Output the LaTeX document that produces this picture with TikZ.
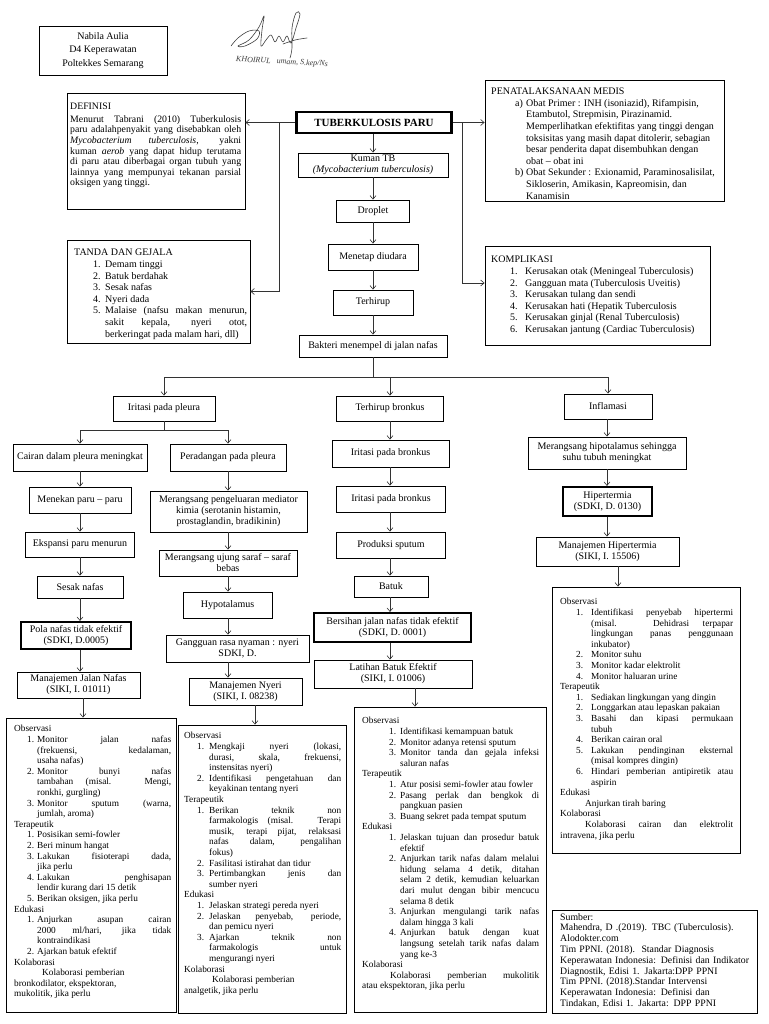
\documentclass[tikz,border=0pt]{standalone}
\usepackage{fontspec}
\setmainfont{Liberation Serif}
\usetikzlibrary{arrows.meta,fit}

\newlength{\nind}
\newlength{\nwid}
\newcommand{\itm}[2]{\par\noindent\hangindent=\dimexpr\nind+\nwid\relax\hangafter=1\hbox to\nind{}\hbox to\nwid{#1\hfil}#2\par}
\newcommand{\hd}[1]{\par\noindent #1\par}
\newcommand{\kol}[2]{\par\noindent\hspace*{#1}#2\par}
\newcommand{\fflow}{\fontsize{10}{11}\selectfont}
\newcommand{\ftop}{\fontsize{10}{11.6}\selectfont\tolerance=10000\hbadness=10000\parindent=0pt}
\newcommand{\fdef}{\fontsize{9.8}{10.6}\selectfont\tolerance=10000\hbadness=10000\parindent=0pt}
\newcommand{\fbot}{\fontsize{9.3}{10.6}\selectfont\tolerance=10000\hbadness=10000\parindent=0pt}
\newcommand{\fsrc}{\fontsize{9.8}{10.8}\selectfont\tolerance=10000\hbadness=10000\parindent=0pt}

\tikzset{
  fbox/.style={draw, line width=0.9pt, align=center, inner sep=1pt, font=\fflow},
  tkbox/.style={fbox, line width=2.2pt},
  arr/.style={draw=black!80, -{Straight Barb[length=3.5pt,width=6pt]}, line width=0.6pt},
  ln/.style={draw=black!80, line width=0.6pt},
  frame/.style={draw, line width=0.9pt, inner sep=0pt},
  txt/.style={anchor=north west, inner sep=0pt, align=justify},
  sig/.style={line width=0.6pt, black!75, line cap=round, line join=round},
}

\begin{document}
\begin{tikzpicture}[x=1pt, y=-1pt]
\fill[white] (0,0) rectangle (768,1024);
\useasboundingbox (0,0) rectangle (768,1024);

% header
\node[draw, line width=0.9pt, minimum width=128pt, minimum height=49pt, align=center, font=\fontsize{10}{13.3}\selectfont] (hdr) at (103,50.5) {Nabila Aulia\\D4 Keperawatan\\Poltekkes Semarang};

% signature
\draw[sig] plot[smooth, tension=0.6] coordinates {(231,46) (238,38) (249,31) (259,31) (257,39) (245,46) (238,46) (249,40) (259,27) (264,16) (262,30) (261,46) (266,40) (271,35) (275,42) (279,36) (283,42) (287,36) (291,43) (296,28) (300,14) (296,13) (292,28) (292,48) (290,58)};
\draw[sig] plot[smooth, tension=0.6] coordinates {(283,44) (295,40) (307,38)};
\node[rotate=-3, font=\fontsize{8}{8}\selectfont\itshape, text=black!75] (sigtext) at (282,62) {KHOIRUL \hspace{4pt}umam, S.kep/Ns};

% central flow
\node[tkbox, minimum width=155pt, minimum height=21pt, font=\fontsize{11}{12}\selectfont\bfseries] (title) at (374,122.5) {TUBERKULOSIS PARU};
\node[fbox, minimum width=150pt, minimum height=24pt] (kuman) at (373,165) {Kuman TB\\\textit{(Mycobacterium tuberculosis)}};
\node[fbox, minimum width=73pt, minimum height=22pt] (drop) at (373,211) {Droplet};
\node[fbox, minimum width=90pt, minimum height=26pt] (menetap) at (373,257) {Menetap diudara};
\node[fbox, minimum width=80pt, minimum height=25pt] (terhirup) at (373,302.5) {Terhirup};
\node[fbox, minimum width=148pt, minimum height=22pt] (bak) at (373,346) {Bakteri menempel di jalan nafas};

% definisi
\node[frame, fit={(67,93) (245,209)}] (defi) {};
\node[txt, text width=171pt, font=\fdef] (deft) at (70,103) {DEFINISI\par\vspace{2pt}Menurut Tabrani (2010) Tuberkulosis\linebreak paru adalahpenyakit yang disebabkan oleh\linebreak \textit{Mycobacterium tuberculosis}, yakni\linebreak kuman \textit{aerob} yang dapat hidup terutama\linebreak di paru atau diberbagai organ tubuh yang\linebreak lainnya yang mempunyai tekanan parsial\linebreak oksigen yang tinggi.\par};

% tanda dan gejala
\node[frame, fit={(67,240) (250,343)}] (tanda) {};
\node[txt, text width=173pt, font=\ftop] (tandat) at (74,244) {\setlength{\nind}{19pt}\setlength{\nwid}{12pt}%
\hd{TANDA DAN GEJALA}
\itm{1.}{Demam tinggi}
\itm{2.}{Batuk berdahak}
\itm{3.}{Sesak nafas}
\itm{4.}{Nyeri dada}
\itm{5.}{Malaise (nafsu makan menurun,\linebreak sakit kepala, nyeri otot,\linebreak berkeringat pada malam hari, dll)}};

% penatalaksanaan
\node[frame, fit={(485,80) (724,201)}] (pena) {};
\node[txt, text width=228pt, font=\ftop] (penat) at (491,83) {\setlength{\nind}{24pt}\setlength{\nwid}{11pt}%
\hd{PENATALAKSANAAN MEDIS}
\itm{a)}{Obat Primer : INH (isoniazid), Rifampisin,\newline Etambutol, Strepmisin, Pirazinamid.\newline Memperlihatkan efektifitas yang tinggi dengan\newline toksisitas yang masih dapat ditolerir, sebagian\newline besar penderita dapat disembuhkan dengan\newline obat – obat ini}
\itm{b)}{Obat Sekunder : Exionamid, Paraminosalisilat,\newline Sikloserin, Amikasin, Kapreomisin, dan\newline Kanamisin}};

% komplikasi
\node[frame, fit={(485,246) (710,345)}] (kompl) {};
\node[txt, text width=215pt, font=\ftop] (komplt) at (491,251) {\setlength{\nind}{19pt}\setlength{\nwid}{15pt}%
\hd{KOMPLIKASI}
\itm{1.}{Kerusakan otak (Meningeal Tuberculosis)}
\itm{2.}{Gangguan mata (Tuberculosis Uveitis)}
\itm{3.}{Kerusakan tulang dan sendi}
\itm{4.}{Kerusakan hati (Hepatik Tuberculosis}
\itm{5.}{Kerusakan ginjal (Renal Tuberculosis)}
\itm{6.}{Kerusakan jantung (Cardiac Tuberculosis)}};

% level 1
\node[fbox, minimum width=102pt, minimum height=25pt] (irp) at (164,408.5) {Iritasi pada pleura};
\node[fbox, minimum width=107pt, minimum height=25pt] (thb) at (390,408.5) {Terhirup bronkus};
\node[fbox, minimum width=88pt, minimum height=25pt] (inf) at (608,406.5) {Inflamasi};

% left column A
\node[fbox, minimum width=134pt, minimum height=27pt] (cai) at (80,457.5) {Cairan dalam pleura meningkat};
\node[fbox, minimum width=102pt, minimum height=26pt] (mnk) at (80,500) {Menekan paru – paru};
\node[fbox, minimum width=109pt, minimum height=25pt] (eks) at (80,544.5) {Ekspansi paru menurun};
\node[fbox, minimum width=86pt, minimum height=22pt] (ssk) at (80,587) {Sesak nafas};
\node[tkbox, minimum width=110pt, minimum height=27pt] (pola) at (76,635.5) {Pola nafas tidak efektif\\(SDKI, D.0005)};
\node[fbox, minimum width=123pt, minimum height=26pt] (mjn) at (78.5,685) {Manajemen Jalan Nafas\\(SIKI, I. 01011)};

% left column B
\node[fbox, minimum width=116pt, minimum height=27pt] (per) at (228,457.5) {Peradangan pada pleura};
\node[fbox, minimum width=157pt, minimum height=41pt] (med) at (228.5,511.5) {Merangsang pengeluaran mediator\\kimia (serotanin histamin,\\prostaglandin, bradikinin)};
\node[fbox, minimum width=138pt, minimum height=26pt] (ujs) at (228,563) {Merangsang ujung saraf – saraf\\bebas};
\node[fbox, minimum width=89pt, minimum height=26pt] (hyp) at (227.5,605) {Hypotalamus};
\node[fbox, minimum width=143pt, minimum height=27pt] (gan) at (237.5,648.5) {Gangguan rasa nyaman : nyeri\\SDKI, D.};
\node[fbox, minimum width=113pt, minimum height=27pt] (mny) at (245.5,691.5) {Manajemen Nyeri\\(SIKI, I. 08238)};

% middle column
\node[fbox, minimum width=117pt, minimum height=27pt] (ib1) at (390.5,453.5) {Iritasi pada bronkus};
\node[fbox, minimum width=109pt, minimum height=26pt] (ib2) at (391,499) {Iritasi pada bronkus};
\node[fbox, minimum width=109pt, minimum height=26pt] (spu) at (391,545) {Produksi sputum};
\node[fbox, minimum width=74pt, minimum height=21pt] (btk) at (391,586.5) {Batuk};
\node[tkbox, minimum width=157pt, minimum height=29pt] (ber) at (392.5,627.5) {Bersihan jalan nafas tidak efektif\\(SDKI, D. 0001)};
\node[fbox, minimum width=158pt, minimum height=28pt] (lat) at (393,674) {Latihan Batuk Efektif\\(SIKI, I. 01006)};

% right column
\node[fbox, minimum width=158pt, minimum height=32pt] (mhp) at (607,453) {Merangsang hipotalamus sehingga\\suhu tubuh meningkat};
\node[tkbox, minimum width=89pt, minimum height=29pt] (hip) at (607.5,501.5) {Hipertermia\\(SDKI, D. 0130)};
\node[fbox, minimum width=143pt, minimum height=29pt] (mhip) at (607.5,551.5) {Manajemen Hipertermia\\(SIKI, I. 15506)};

% bottom boxes
\node[frame, fit={(6,718) (176,1012)}] (b1) {};
\node[txt, text width=157pt, font=\fbot] (b1t) at (14,721) {\setlength{\nind}{13pt}\setlength{\nwid}{10pt}%
\hd{Observasi}
\itm{1.}{Monitor jalan nafas\linebreak (frekuensi, kedalaman,\linebreak usaha nafas)}
\itm{2.}{Monitor bunyi nafas\linebreak tambahan (misal. Mengi,\linebreak ronkhi, gurgling)}
\itm{3.}{Monitor sputum (warna,\linebreak jumlah, aroma)}
\hd{Terapeutik}
\itm{1.}{Posisikan semi-fowler}
\itm{2.}{Beri minum hangat}
\itm{3.}{Lakukan fisioterapi dada,\linebreak jika perlu}
\itm{4.}{Lakukan penghisapan\linebreak lendir kurang dari 15 detik}
\itm{5.}{Berikan oksigen, jika perlu}
\hd{Edukasi}
\itm{1.}{Anjurkan asupan cairan\linebreak 2000 ml/hari, jika tidak\linebreak kontraindikasi}
\itm{2.}{Ajarkan batuk efektif}
\hd{Kolaborasi}
\kol{28pt}{Kolaborasi pemberian\newline bronkodilator, ekspektoran,\newline mukolitik, jika perlu}};

\node[frame, fit={(178,725) (346,1013)}] (b2) {};
\node[txt, text width=157pt, font=\fbot] (b2t) at (184,728) {\setlength{\nind}{13pt}\setlength{\nwid}{12pt}%
\hd{Observasi}
\itm{1.}{Mengkaji nyeri (lokasi,\linebreak durasi, skala, frekuensi,\linebreak instensitas nyeri)}
\itm{2.}{Identifikasi pengetahuan dan\linebreak keyakinan tentang nyeri}
\hd{Terapeutik}
\itm{1.}{Berikan teknik non\linebreak farmakologis (misal. Terapi\linebreak musik, terapi pijat, relaksasi\linebreak nafas dalam, pengalihan\linebreak fokus)}
\itm{2.}{Fasilitasi istirahat dan tidur}
\itm{3.}{Pertimbangkan jenis dan\linebreak sumber nyeri}
\hd{Edukasi}
\itm{1.}{Jelaskan strategi pereda nyeri}
\itm{2.}{Jelaskan penyebab, periode,\linebreak dan pemicu nyeri}
\itm{3.}{Ajarkan teknik non\linebreak farmakologis untuk\linebreak mengurangi nyeri}
\hd{Kolaborasi}
\kol{28pt}{Kolaborasi pemberian\newline analgetik, jika perlu}};

\node[frame, fit={(354,707) (546,1012)}] (b3) {};
\node[txt, text width=177pt, font=\fbot] (b3t) at (362,713) {\setlength{\nind}{27pt}\setlength{\nwid}{11pt}%
\hd{Observasi}
\itm{1.}{Identifikasi kemampuan batuk}
\itm{2.}{Monitor adanya retensi sputum}
\itm{3.}{Monitor tanda dan gejala infeksi\linebreak saluran nafas}
\hd{Terapeutik}
\itm{1.}{Atur posisi semi-fowler atau fowler}
\itm{2.}{Pasang perlak dan bengkok di\linebreak pangkuan pasien}
\itm{3.}{Buang sekret pada tempat sputum}
\hd{Edukasi}
\itm{1.}{Jelaskan tujuan dan prosedur batuk\linebreak efektif}
\itm{2.}{Anjurkan tarik nafas dalam melalui\linebreak hidung selama 4 detik, ditahan\linebreak selam 2 detik, kemudian keluarkan\linebreak dari mulut dengan bibir mencucu\linebreak selama 8 detik}
\itm{3.}{Anjurkan mengulangi tarik nafas\linebreak dalam hingga 3 kali}
\itm{4.}{Anjurkan batuk dengan kuat\linebreak langsung setelah tarik nafas dalam\linebreak yang ke-3}
\hd{Kolaborasi}
\kol{28pt}{Kolaborasi pemberian mukolitik\linebreak atau ekspektoran, jika perlu}};

\node[frame, fit={(552,587) (740,853)}] (b4) {};
\node[txt, text width=173pt, font=\fbot] (b4t) at (560,594) {\setlength{\nind}{16pt}\setlength{\nwid}{15pt}%
\hd{Observasi}
\itm{1.}{Identifikasi penyebab hipertermi\linebreak (misal. Dehidrasi terpapar\linebreak lingkungan panas penggunaan\linebreak inkubator)}
\itm{2.}{Monitor suhu}
\itm{3.}{Monitor kadar elektrolit}
\itm{4.}{Monitor haluaran urine}
\hd{Terapeutik}
\itm{1.}{Sediakan lingkungan yang dingin}
\itm{2.}{Longgarkan atau lepaskan pakaian}
\itm{3.}{Basahi dan kipasi permukaan\linebreak tubuh}
\itm{4.}{Berikan cairan oral}
\itm{5.}{Lakukan pendinginan eksternal\linebreak (misal kompres dingin)}
\itm{6.}{Hindari pemberian antipiretik atau\linebreak aspirin}
\hd{Edukasi}
\kol{25pt}{Anjurkan tirah baring}
\hd{Kolaborasi}
\kol{25pt}{Kolaborasi cairan dan elektrolit\linebreak intravena, jika perlu}};

% sumber
\node[frame, fit={(552,910) (757,1013)}] (src) {};
\node[txt, text width=195pt, font=\fsrc, align=left] (srct) at (560,913) {Sumber:\\Mahendra, D .(2019). TBC (Tuberculosis).\\Alodokter.com\\Tim PPNI. (2018).\ \ Standar Diagnosis\\Keperawatan Indonesia: Definisi dan Indikator\\Diagnostik, Edisi 1. Jakarta:DPP PPNI\\Tim PPNI. (2018).Standar Intervensi\\Keperawatan Indonesia: Definisi dan\\Tindakan, Edisi 1. Jakarta: DPP PPNI};

% ===== connectors =====
\coordinate (cC) at (373,0);
\draw[arr] (title.south -| cC) -- (kuman.north -| cC);
\draw[arr] (kuman) -- (drop);
\draw[arr] (drop) -- (menetap);
\draw[arr] (menetap) -- (terhirup);
\draw[arr] (terhirup) -- (bak);

% top side connectors
\draw[arr] (title.west) -- (title.west -| defi.east);
\coordinate (lj) at (279,122.5);
\draw[arr] (lj) |- (tanda.east);
\draw[arr] (title.east) -- (title.east -| pena.west);
\coordinate (rj) at (462,122.5);
\coordinate (rk) at (462,283);
\draw[arr] (rj) -- (rk) -- (rk -| kompl.west);

% main branch
\coordinate (j1) at (373,377);
\draw[ln] (bak) -- (j1);
\draw[ln] (j1 -| irp) -- (j1 -| inf);
\draw[arr] (j1 -| irp) -- (irp);
\draw[arr] (j1 -| thb) -- (thb);
\draw[arr] (j1 -| inf) -- (inf);

% pleura branch
\coordinate (j2) at (164,430);
\draw[ln] (irp) -- (j2);
\draw[ln] (j2 -| cai) -- (j2 -| per);
\draw[arr] (j2 -| cai) -- (cai);
\draw[arr] (j2 -| per) -- (per);

% column A
\coordinate (cA) at (80,0);
\draw[arr] (cai.south -| cA) -- (mnk.north -| cA);
\draw[arr] (mnk.south -| cA) -- (eks.north -| cA);
\draw[arr] (eks.south -| cA) -- (ssk.north -| cA);
\draw[arr] (ssk.south -| cA) -- (pola.north -| cA);
\draw[arr] (pola.south -| cA) -- (mjn.north -| cA);
\coordinate (cA2) at (83,0);
\draw[arr] (mjn.south -| cA2) -- (b1.north -| cA2);

% column B
\coordinate (cB) at (228,0);
\draw[arr] (per.south -| cB) -- (med.north -| cB);
\draw[arr] (med.south -| cB) -- (ujs.north -| cB);
\draw[arr] (ujs.south -| cB) -- (hyp.north -| cB);
\draw[arr] (hyp.south -| cB) -- (gan.north -| cB);
\draw[arr] (gan.south -| cB) -- (mny.north -| cB);
\coordinate (cB2) at (255,0);
\draw[arr] (mny.south -| cB2) -- (b2.north -| cB2);

% middle column
\coordinate (cM) at (390,0);
\draw[arr] (thb.south -| cM) -- (ib1.north -| cM);
\draw[arr] (ib1.south -| cM) -- (ib2.north -| cM);
\draw[arr] (ib2.south -| cM) -- (spu.north -| cM);
\draw[arr] (spu.south -| cM) -- (btk.north -| cM);
\draw[arr] (btk.south -| cM) -- (ber.north -| cM);
\draw[arr] (ber.south -| cM) -- (lat.north -| cM);
\coordinate (cM2) at (415,0);
\draw[arr] (lat.south -| cM2) -- (b3.north -| cM2);

% right column
\coordinate (cR) at (607,0);
\draw[arr] (inf.south -| cR) -- (mhp.north -| cR);
\draw[arr] (mhp.south -| cR) -- (hip.north -| cR);
\draw[arr] (hip.south -| cR) -- (mhip.north -| cR);
\coordinate (cR2) at (618,0);
\draw[arr] (mhip.south -| cR2) -- (b4.north -| cR2);
\end{tikzpicture}
\end{document}
